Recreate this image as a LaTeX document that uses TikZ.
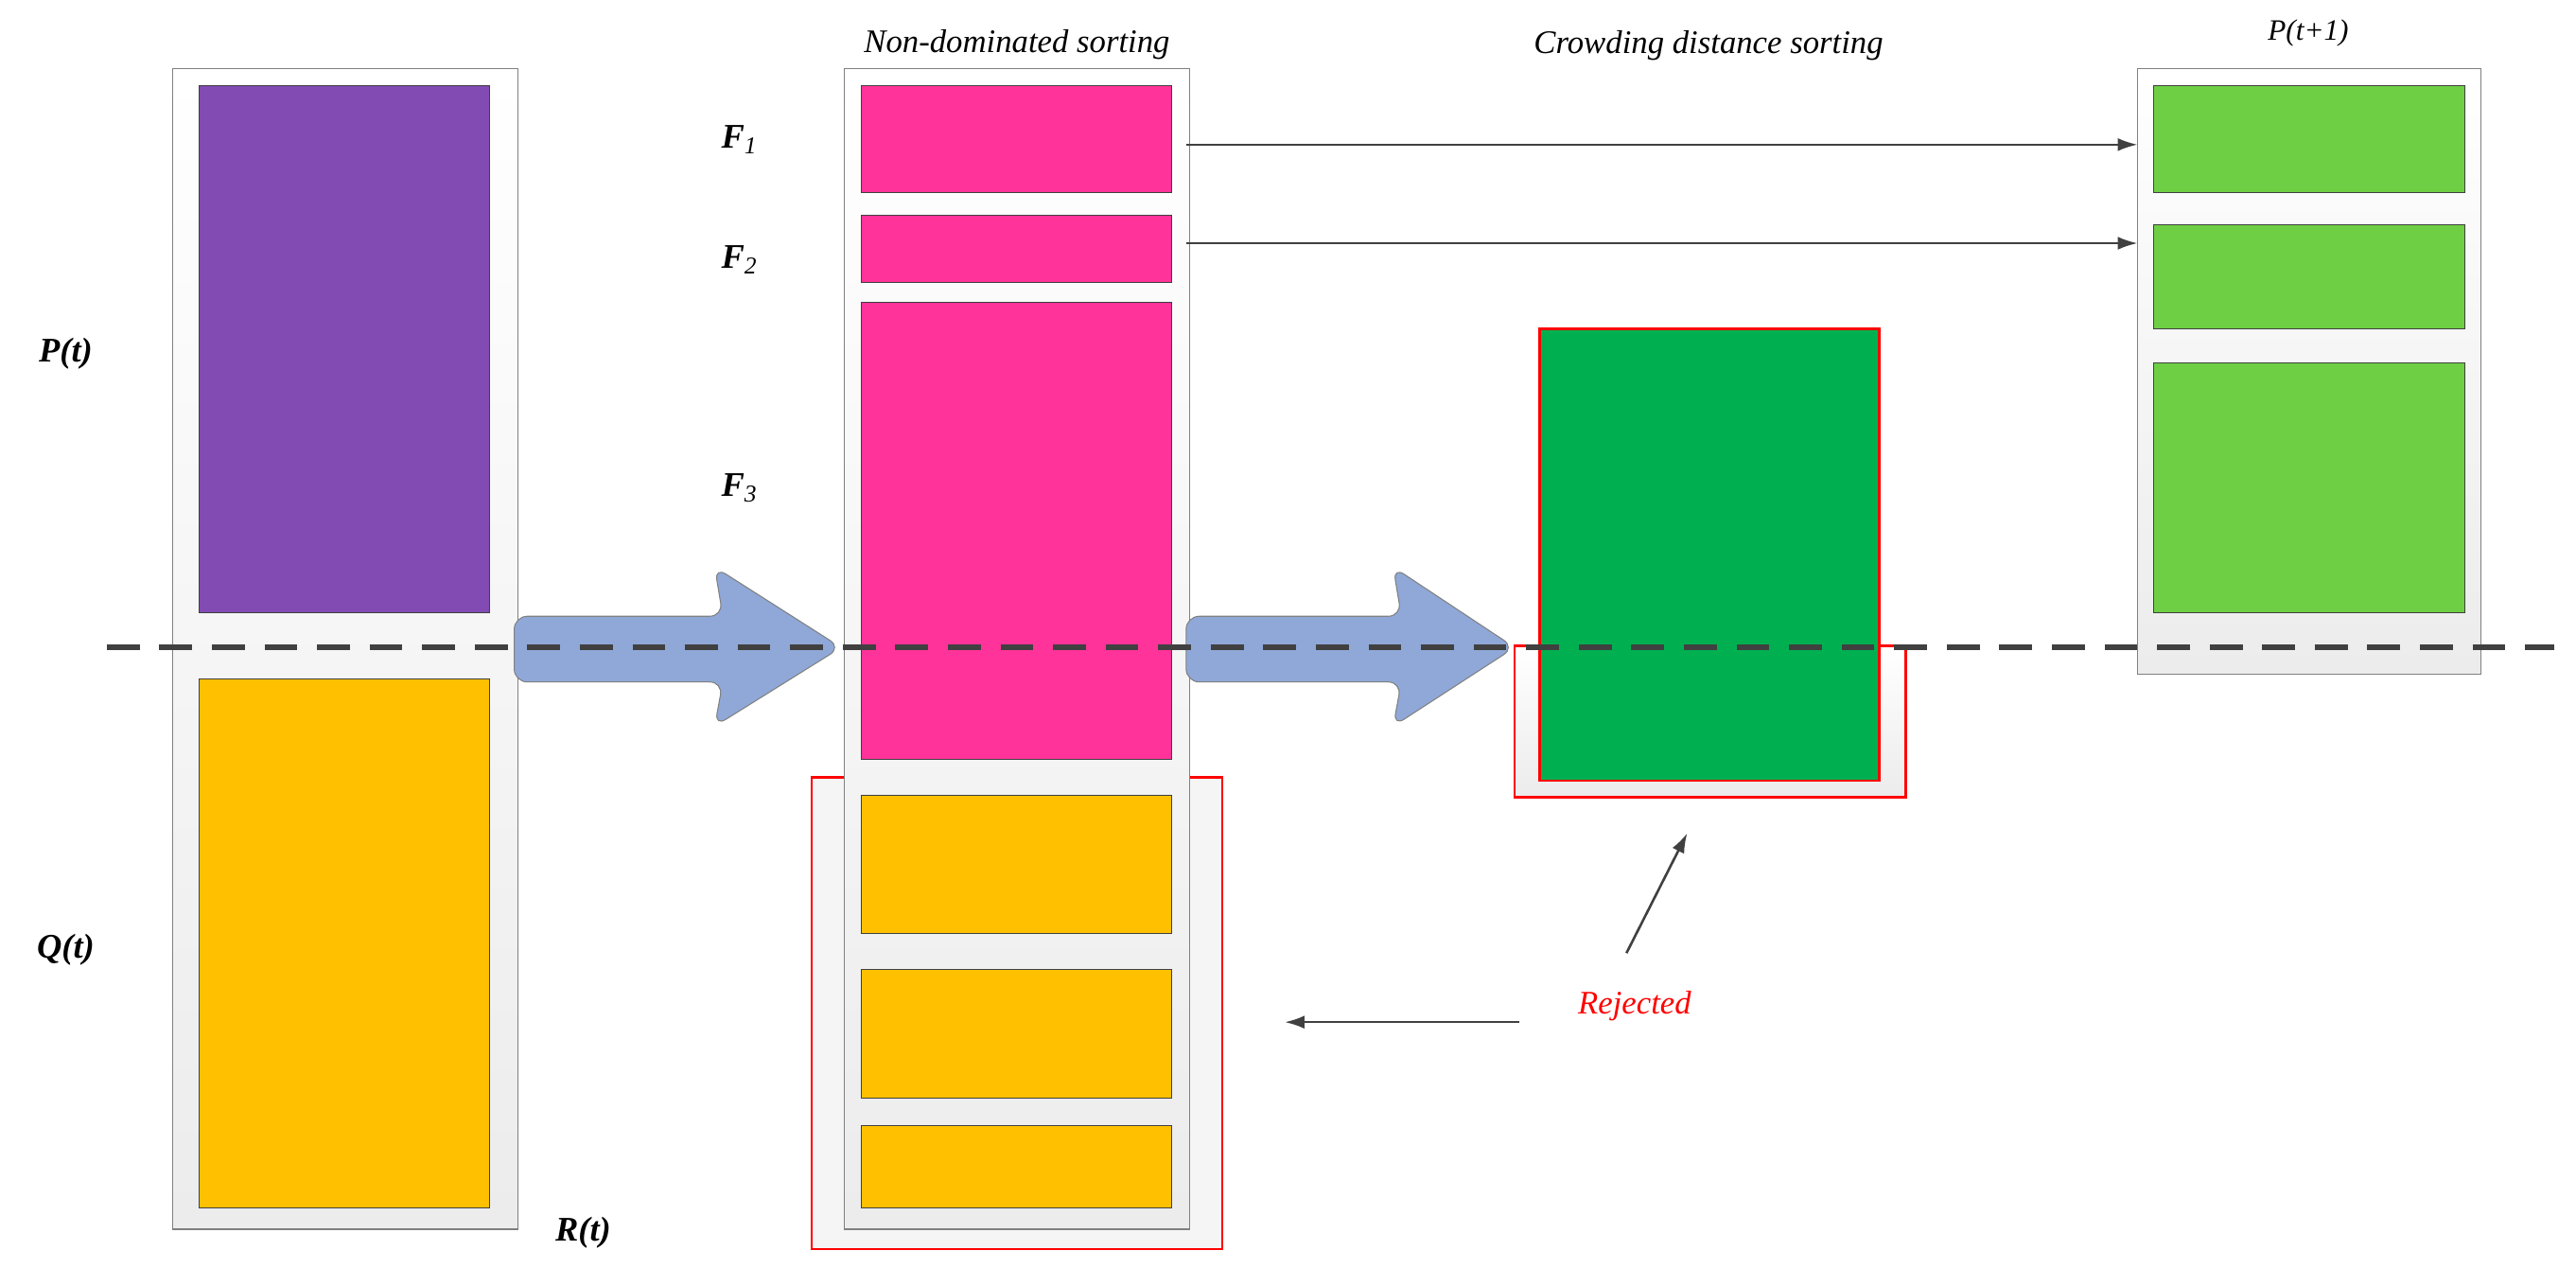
\documentclass[tikz,border=0pt]{standalone}
\usepackage{fontspec}
\setmainfont{Liberation Serif}
\usetikzlibrary{arrows.meta,shapes.arrows}
\definecolor{purp}{HTML}{824BB4}
\definecolor{gold}{HTML}{FFC000}
\definecolor{pink}{HTML}{FF3399}
\definecolor{dgreen}{HTML}{00B050}
\definecolor{lgreen}{HTML}{6ECF44}
\definecolor{barrow}{HTML}{8FA8D8}
\definecolor{dk}{HTML}{404040}
\begin{document}
\begin{tikzpicture}[x=1pt,y=-1pt,
  outer/.style={draw=gray,line width=0.6pt,top color=white,bottom color=gray!15},
  blk/.style={draw=dk,line width=0.5pt},
  lbl/.style={font=\fontsize{21}{25}\selectfont\bfseries\itshape},
  ttl/.style={font=\fontsize{20}{24}\selectfont\itshape},
  arr/.style={-{Latex[length=12pt,width=8pt]},draw=dk,line width=1.5pt},
  fat/.style={draw=gray,fill=barrow,line width=0.6pt},
  redbox/.style={draw=red,line width=1.5pt}]
\useasboundingbox (0,0) rectangle (1568,771.6);
% R(t) column
\path[outer] (105,42) rectangle (315,748);
\path[blk,fill=purp] (121,52) rectangle (298,373);
\path[blk,fill=gold] (121,413) rectangle (298,735);
\node[lbl] (pt) at (40,215) {P(t)};
\node[lbl] (qt) at (40,578) {Q(t)};
\node[lbl] (rt) at (355,750) {R(t)};
% middle column
\path[redbox,fill=gray!8] (494,473) rectangle (744,760);
\path[outer] (514,42) rectangle (724,748);
\path[blk,fill=pink] (524,52) rectangle (713,117);
\path[blk,fill=pink] (524,131) rectangle (713,172);
\path[blk,fill=pink] (524,184) rectangle (713,462);
\path[blk,fill=gold] (524,484) rectangle (713,568);
\path[blk,fill=gold] (524,590) rectangle (713,668);
\path[blk,fill=gold] (524,685) rectangle (713,735);
\node[lbl] (f1) at (450,85) {F$_{\mathit{1}}$};
\node[lbl] (f2) at (450,158) {F$_{\mathit{2}}$};
\node[lbl] (f3) at (450,297) {F$_{\mathit{3}}$};
\node[ttl] (t1) at (619,27) {Non-dominated sorting};
\node[ttl] (t2) at (1040,28) {Crowding distance sorting};
\node[font=\fontsize{18}{22}\selectfont\itshape] (t3) at (1405,20) {P(t+1)};
% fat arrows
\path[fat,rounded corners=8pt] (313,375) -- (440,375) -- (435,345) -- (512,394) -- (435,442) -- (440,415) -- (313,415) -- cycle;
\path[fat,rounded corners=8pt] (722,375) -- (853,375) -- (848,345) -- (922,394) -- (848,442) -- (853,415) -- (722,415) -- cycle;
% crowding
\path[redbox,top color=white,bottom color=gray!15] (922,393) rectangle (1160,485);
\path[redbox,fill=dgreen] (937,200) rectangle (1144,475);
% P(t+1)
\path[outer] (1301,42) rectangle (1510,410);
\path[blk,fill=lgreen] (1311,52) rectangle (1500,117);
\path[blk,fill=lgreen] (1311,137) rectangle (1500,200);
\path[blk,fill=lgreen] (1311,221) rectangle (1500,373);
% dashed line
\draw[dk,line width=3.5pt,dash pattern=on 20pt off 12pt] (65,394) -- (1555,394);
% arrows
\coordinate (a1) at (722,88); \coordinate (b1) at (1301,88);
\coordinate (a2) at (722,148); \coordinate (b2) at (1301,148);
\draw[arr,line width=1.2pt] (a1) -- (b1);
\draw[arr,line width=1.2pt] (a2) -- (b2);
\node[font=\fontsize{20}{24}\selectfont\itshape,text=red] (rej) at (995,612) {Rejected};
\coordinate (c1) at (990,580); \coordinate (d1) at (1027,507);
\coordinate (c2) at (925,622); \coordinate (d2) at (782,622);
\draw[arr] (c1) -- (d1);
\draw[arr] (c2) -- (d2);
\end{tikzpicture}
\end{document}
